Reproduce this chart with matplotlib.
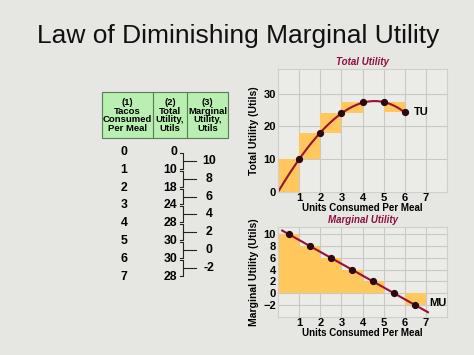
import matplotlib
matplotlib.use("Agg")
import matplotlib.pyplot as plt
import numpy as np

plt.rcParams['font.family'] = ['Liberation Sans', 'DejaVu Sans']

# ---- data ----
tacos = [0, 1, 2, 3, 4, 5, 6, 7]
table_tu = [0, 10, 18, 24, 28, 30, 30, 28]
table_mu = [10, 8, 6, 4, 2, 0, -2]
headers = ["(1)\nTacos\nConsumed\nPer Meal", "(2)\nTotal\nUtility,\nUtils", "(3)\nMarginal\nUtility,\nUtils"]

# values as drawn in the charts
chart_units = [0, 1, 2, 3, 4, 5, 6]
chart_tu = [0, 10, 18, 24, 27.3, 27.3, 24.3]
mu_units = [0.5, 1.5, 2.5, 3.5, 4.5, 5.5, 6.5]
chart_mu = [10, 8, 6, 4, 2, 0, -2]
x_ticks = [1, 2, 3, 4, 5, 6, 7]
tu_ticks = [0, 10, 20, 30]
mu_ticks = [-2, 0, 2, 4, 6, 8, 10]

BG = "#e6e6e2"
ORANGE = "#ffc75c"
LINE = "#9a1030"
DOT = "#2a0a0e"
TITLE_RED = "#8e1040"
GRID = "#c8c8c4"

fig = plt.figure(figsize=(4.74, 3.55), dpi=100, facecolor=BG)

fig.text(0.502, 0.900, "Law of Diminishing Marginal Utility", ha="center", va="center",
         fontsize=19, color="#111111")

# ---- table (figure pixel coords via helper) ----
W, H = 474.0, 355.0
def fx(px): return px / W
def fy(py): return 1 - py / H

col_edges = [102, 153, 187, 228]
hdr = plt.Rectangle((fx(102), fy(138)), fx(228) - fx(102), fy(92) - fy(138),
                    transform=fig.transFigure, facecolor="#b9efb0", edgecolor="#5a7a5a", lw=0.8)
fig.patches.append(hdr)
for xe in col_edges[1:3]:
    fig.add_artist(plt.Line2D([fx(xe), fx(xe)], [fy(92), fy(138)], transform=fig.transFigure,
                              color="#5a7a5a", lw=0.8))
for i, h in enumerate(headers):
    cx = (col_edges[i] + col_edges[i + 1]) / 2
    fig.text(fx(cx), fy(115.5), h, ha="center", va="center", fontsize=6.8,
             fontweight="bold", linespacing=0.92)

row_y = [152 + 17.8 * i for i in range(len(tacos))]
for t, tu, y in zip(tacos, table_tu, row_y):
    fig.text(fx(124), fy(y), str(t), ha="center", va="center", fontsize=8.8, fontweight="bold")
    fig.text(fx(177), fy(y), str(tu), ha="right", va="center", fontsize=8.8, fontweight="bold")

# brackets
for i, mu in enumerate(table_mu):
    y0, y1 = row_y[i], row_y[i + 1]
    ym = (y0 + y1) / 2
    fig.add_artist(plt.Line2D([fx(180), fx(182.5), fx(182.5), fx(180)], [fy(y0 + 1), fy(y0 + 1), fy(y1 - 1), fy(y1 - 1)],
                              transform=fig.transFigure, color="#222222", lw=0.8))
    fig.add_artist(plt.Line2D([fx(182.5), fx(196)], [fy(ym), fy(ym)],
                              transform=fig.transFigure, color="#222222", lw=0.8))
    fig.text(fx(209), fy(ym), str(mu), ha="center", va="center", fontsize=8.8, fontweight="bold")

# ---- Total utility chart ----
ax1 = fig.add_axes([fx(278), fy(192), fx(447) - fx(278), fy(69) - fy(192)])
ax1.set_facecolor("#ebebe8")
ax1.set_xlim(0, 8)
ax1.set_ylim(0, 37.5)
for x in range(1, 8):
    ax1.axvline(x, color=GRID, lw=0.8, zorder=0)
for y in [10, 20, 30]:
    ax1.axhline(y, color=GRID, lw=0.8, zorder=0)
for i in range(len(chart_tu) - 1):
    lo = min(chart_tu[i], chart_tu[i + 1])
    hi = max(chart_tu[i], chart_tu[i + 1])
    if hi - lo > 0.5:
        ax1.bar(chart_units[i], hi - lo, bottom=lo, width=1, align="edge",
                color=ORANGE, zorder=1, lw=0)
xs = np.linspace(0, 6, 200)
coef = np.polyfit(chart_units, chart_tu, 3)
ax1.plot(xs, np.polyval(coef, xs), color=LINE, lw=1.5, zorder=2)
ax1.plot(chart_units[1:], chart_tu[1:], "o", color=DOT, ms=4.2, zorder=3)
ax1.text(6.45, chart_tu[-1], "TU", fontsize=8, fontweight="bold", va="center")
ax1.set_xticks(x_ticks)
ax1.set_yticks(tu_ticks)
ax1.tick_params(axis="x", length=0, labelsize=8, pad=0.5)
ax1.tick_params(axis="y", length=0, labelsize=8, pad=1.5)
for lab in ax1.get_xticklabels() + ax1.get_yticklabels():
    lab.set_fontweight("bold")
ax1.set_xlabel("Units Consumed Per Meal", fontsize=7, fontweight="bold", labelpad=0)
ax1.set_ylabel("Total Utility (Utils)", fontsize=7.5, fontweight="bold", labelpad=3)
ax1.set_title("Total Utility", fontsize=7, fontweight="bold", style="italic", color=TITLE_RED, pad=3)
for s in ax1.spines.values():
    s.set_color("#cfcfcb")

# ---- Marginal utility chart ----
ax2 = fig.add_axes([fx(278), fy(317), fx(447) - fx(278), fy(227) - fy(317)])
ax2.set_facecolor("#ebebe8")
ax2.set_xlim(0, 8)
ax2.set_ylim(-4, 11.2)
for x in range(1, 8):
    ax2.axvline(x, color=GRID, lw=0.8, zorder=0)
for y in mu_ticks:
    ax2.axhline(y, color=GRID, lw=0.8, zorder=0)
ax2.bar([u - 0.5 for u in mu_units], chart_mu, width=1, align="edge", color=ORANGE, zorder=1, lw=0)
coef2 = np.polyfit(mu_units, chart_mu, 1)
xl = np.array([0.2, 7.1])
ax2.plot(xl, np.polyval(coef2, xl), color=LINE, lw=1.5, zorder=2)
ax2.plot(mu_units, chart_mu, "o", color=DOT, ms=4.2, zorder=3)
ax2.text(7.15, -1.6, "MU", fontsize=8, fontweight="bold", va="center")
ax2.set_xticks(x_ticks)
ax2.set_yticks(mu_ticks)
ax2.tick_params(axis="x", length=0, labelsize=8, pad=0.5)
ax2.tick_params(axis="y", length=0, labelsize=8, pad=1.5)
for lab in ax2.get_xticklabels() + ax2.get_yticklabels():
    lab.set_fontweight("bold")
ax2.set_xlabel("Units Consumed Per Meal", fontsize=7, fontweight="bold", labelpad=0)
ax2.set_ylabel("Marginal Utility (Utils)", fontsize=7.5, fontweight="bold", labelpad=3)
ax2.set_title("Marginal Utility", fontsize=7, fontweight="bold", style="italic", color=TITLE_RED, pad=3)
for s in ax2.spines.values():
    s.set_color("#cfcfcb")

fig.savefig("out.png", dpi=100, facecolor=BG)
